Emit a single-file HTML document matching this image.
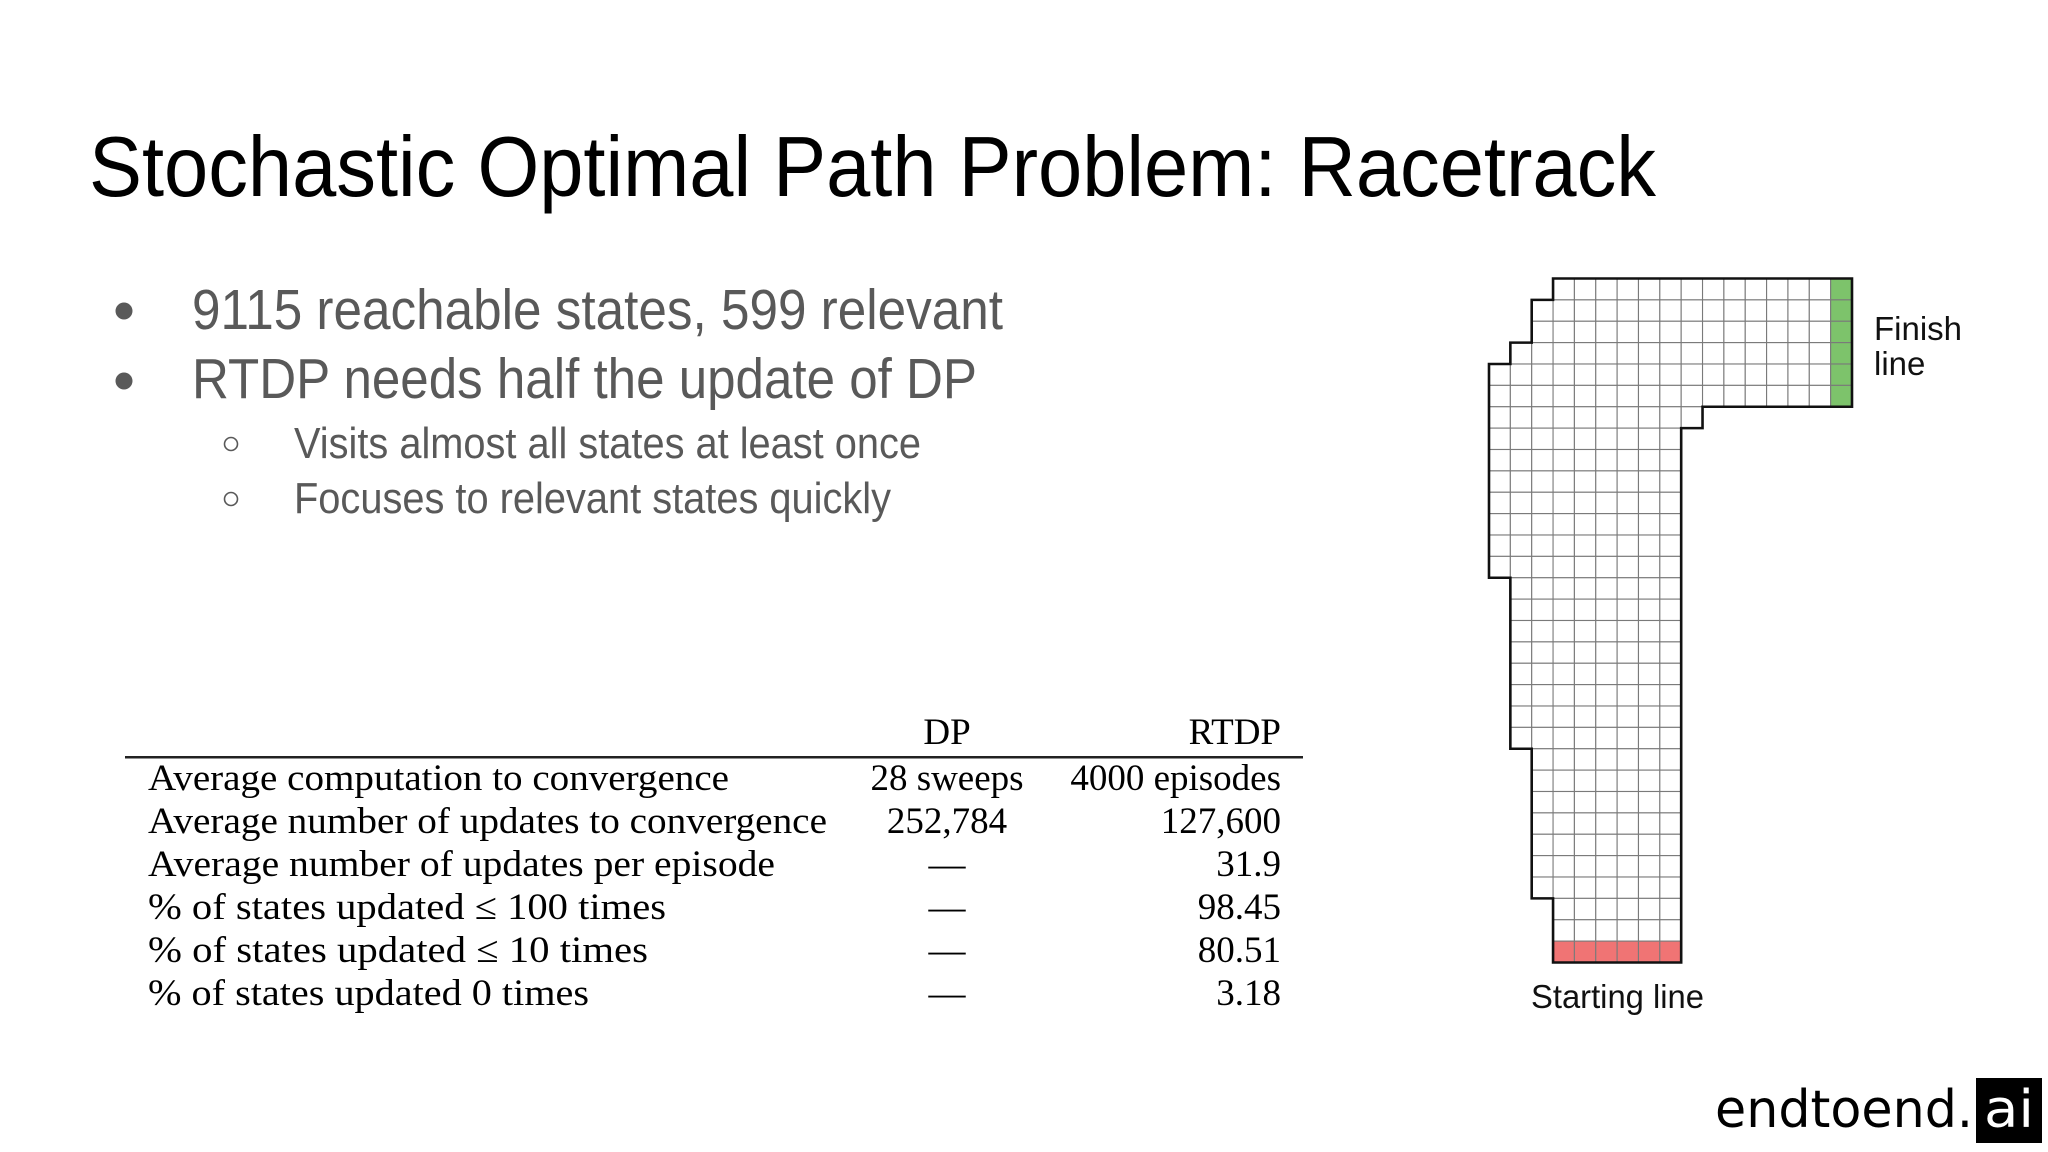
<!DOCTYPE html>
<html><head><meta charset="utf-8"><style>
html,body{margin:0;padding:0;background:#fff;}
svg{display:block;}
</style></head><body>
<svg id="slide" width="2048" height="1152" viewBox="0 0 2048 1152" xmlns="http://www.w3.org/2000/svg">
<rect x="0" y="0" width="2048" height="1152" fill="#fff"/>
<text x="89" y="196" font-family="Liberation Sans, sans-serif" font-size="85" fill="#000" textLength="1567" lengthAdjust="spacingAndGlyphs">Stochastic Optimal Path Problem: Racetrack</text>

<g fill="#595959" font-family="Liberation Sans, sans-serif">
<circle cx="124" cy="311" r="8.5"/>
<text x="192" y="329" font-size="57" textLength="811" lengthAdjust="spacingAndGlyphs">9115 reachable states, 599 relevant</text>
<circle cx="124" cy="381" r="8.5"/>
<text x="192" y="398" font-size="57" textLength="785" lengthAdjust="spacingAndGlyphs">RTDP needs half the update of DP</text>
<circle cx="231" cy="444" r="6.5" fill="none" stroke="#595959" stroke-width="1.6"/>
<text x="294" y="458" font-size="44" textLength="627" lengthAdjust="spacingAndGlyphs">Visits almost all states at least once</text>
<circle cx="231" cy="499" r="6.5" fill="none" stroke="#595959" stroke-width="1.6"/>
<text x="294" y="513" font-size="44" textLength="597" lengthAdjust="spacingAndGlyphs">Focuses to relevant states quickly</text>
</g>

<g font-family="Liberation Serif, serif" font-size="37" fill="#000">
<text x="947" y="744" text-anchor="middle">DP</text>
<text x="1281" y="744" text-anchor="end">RTDP</text>
<rect x="125" y="756" width="1178" height="2.5" fill="#222"/>
<g id="tableRows"></g>
</g>

<g id="track"></g>

<g font-family="Liberation Sans, sans-serif" font-size="33" fill="#111">
<text x="1874" y="340">Finish</text>
<text x="1874" y="375">line</text>
<text x="1531" y="1008" textLength="173" lengthAdjust="spacingAndGlyphs">Starting line</text>
</g>

<g>
<text x="1715" y="1127" font-family="DejaVu Sans, sans-serif" font-size="52" fill="#000" textLength="258" lengthAdjust="spacingAndGlyphs">endtoend.</text>
<rect x="1976" y="1078" width="66" height="65" fill="#000"/>
<text x="1984" y="1127" font-family="DejaVu Sans, sans-serif" font-size="52" fill="#fff" textLength="50" lengthAdjust="spacingAndGlyphs">ai</text>
</g>
</svg>
<script>
// Table data
const rowLabels = ["Average computation to convergence","Average number of updates to convergence","Average number of updates per episode","% of states updated \u2264 100 times","% of states updated \u2264 10 times","% of states updated 0 times"];
const dpValues = ["28 sweeps","252,784","\u2014","\u2014","\u2014","\u2014"];
const rtdpValues = ["4000 episodes","127,600","31.9","98.45","80.51","3.18"];
const labelWidths = [581,679,627,518,500,441];

// Racetrack data: per row, first column and end column (exclusive)
const rowStart = [3,2,2,1,0,0,0,0,0,0,0,0,0,0,1,1,1,1,1,1,1,1,2,2,2,2,2,2,2,3,3,3];
const rowEnd   = [17,17,17,17,17,17,10,9,9,9,9,9,9,9,9,9,9,9,9,9,9,9,9,9,9,9,9,9,9,9,9,9];
const finishCol = 16;
const finishRows = [0,1,2,3,4,5];
const startRow = 31;

const NS = "http://www.w3.org/2000/svg";
const tb = document.getElementById('tableRows');
rowLabels.forEach((lab,i)=>{
  const y = 790 + i*43;
  let t = document.createElementNS(NS,'text');
  t.setAttribute('x',148); t.setAttribute('y',y);
  t.setAttribute('textLength',labelWidths[i]); t.setAttribute('lengthAdjust','spacingAndGlyphs');
  t.textContent = lab;
  
  
  tb.appendChild(t);
  let d = document.createElementNS(NS,'text');
  d.setAttribute('x',947); d.setAttribute('y',y); d.setAttribute('text-anchor','middle');
  d.textContent = dpValues[i];
  
  
  tb.appendChild(d);
  let r = document.createElementNS(NS,'text');
  r.setAttribute('x',1281); r.setAttribute('y',y); r.setAttribute('text-anchor','end');
  r.textContent = rtdpValues[i];
  
  
  tb.appendChild(r);
});

const X0 = 1489, Y0 = 278.5, CW = (1852-1489)/17, CH = (962.5-278.5)/32;
const g = document.getElementById('track');
const inside = (r,c)=> r>=0 && r<rowStart.length && c>=rowStart[r] && c<rowEnd[r];
for (let r=0;r<rowStart.length;r++){
  for (let c=rowStart[r];c<rowEnd[r];c++){
    const rect = document.createElementNS(NS,'rect');
    rect.setAttribute('x',X0+c*CW); rect.setAttribute('y',Y0+r*CH);
    rect.setAttribute('width',CW); rect.setAttribute('height',CH);
    let fill = '#fff';
    if (c===finishCol && finishRows.includes(r)) fill = '#7dc36b';
    if (r===startRow) fill = '#f07474';
    rect.setAttribute('fill',fill);
    rect.setAttribute('stroke','#7a7a7a');
    rect.setAttribute('stroke-width','1.1');
    
    
    g.appendChild(rect);
  }
}
let dstr = '';
for (let r=0;r<rowStart.length;r++){
  for (let c=rowStart[r];c<rowEnd[r];c++){
    const x=X0+c*CW, y=Y0+r*CH;
    if(!inside(r-1,c)) dstr += `M${x},${y}H${x+CW}`;
    if(!inside(r+1,c)) dstr += `M${x},${y+CH}H${x+CW}`;
    if(!inside(r,c-1)) dstr += `M${x},${y}V${y+CH}`;
    if(!inside(r,c+1)) dstr += `M${x+CW},${y}V${y+CH}`;
  }
}
const outline = document.createElementNS(NS,'path');
outline.setAttribute('d',dstr);
outline.setAttribute('stroke','#111');
outline.setAttribute('stroke-width','2.6');
outline.setAttribute('stroke-linecap','square');
outline.setAttribute('fill','none');


g.appendChild(outline);
</script>
</body></html>
